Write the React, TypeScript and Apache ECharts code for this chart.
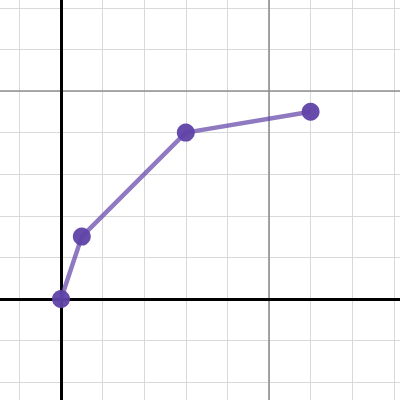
import * as echarts from 'echarts';
import { useEffect, useRef } from 'react';

// points of the plotted polyline
const xs = [0, 0.5, 3, 6];
const ys = [0, 1.5, 4, 4.5];

// graph paper: minor every 1 unit, major every 5
const minorStep = 1;
const majorStep = 5;
const axisMin = -5;
const axisMax = 10;

// pixel scale of one unit and where the origin sits in the 400x400 view
const unit = 41.6;
const originX = 61;
const originY = 299;

const purple = '#6042a6';

function axes() {
  const base = {
    type: 'value' as const,
    min: axisMin,
    max: axisMax,
    axisTick: { show: false },
    axisLabel: { show: false },
  };
  return [
    {
      ...base,
      z: 0,
      interval: minorStep,
      axisLine: { show: false, onZero: false },
      splitLine: { show: true, lineStyle: { color: '#d9d9d9', width: 1 } },
    },
    {
      ...base,
      z: 1,
      interval: majorStep,
      axisLine: { show: false, onZero: false },
      splitLine: { show: true, lineStyle: { color: '#8f8f8f', width: 1.6 } },
    },
    {
      ...base,
      z: 2,
      interval: majorStep,
      splitLine: { show: false },
      axisLine: {
        show: true,
        onZero: true,
        onZeroAxisIndex: 2,
        lineStyle: { color: '#000', width: 3 },
      },
    },
  ];
}

export default function App() {
  const ref = useRef<HTMLDivElement>(null);
  const span = (axisMax - axisMin) * unit;

  useEffect(() => {
    if (!ref.current) return;
    const chart = echarts.init(ref.current, null, { renderer: 'svg', width: span, height: span });
    chart.setOption({
      animation: false,
      backgroundColor: '#fff',
      grid: { left: 0, right: 0, top: 0, bottom: 0, outerBoundsMode: 'none' },
      xAxis: axes(),
      yAxis: axes(),
      series: [
        {
          type: 'line',
          z: 5,
          xAxisIndex: 0,
          yAxisIndex: 0,
          data: xs.map((x, i) => [x, ys[i]]),
          symbol: 'circle',
          symbolSize: 18,
          itemStyle: { color: purple, opacity: 0.95 },
          lineStyle: { color: purple, width: 4.5, opacity: 0.7 },
          silent: true,
        },
      ],
    });
    return () => chart.dispose();
  }, []);

  return (
    <div style={{ position: 'fixed', left: 0, top: 0, width: 400, height: 400, overflow: 'hidden', background: '#fff' }}>
      <div
        ref={ref}
        style={{
          position: 'absolute',
          left: originX + axisMin * unit,
          top: originY - axisMax * unit,
          width: span,
          height: span,
        }}
      />
    </div>
  );
}
